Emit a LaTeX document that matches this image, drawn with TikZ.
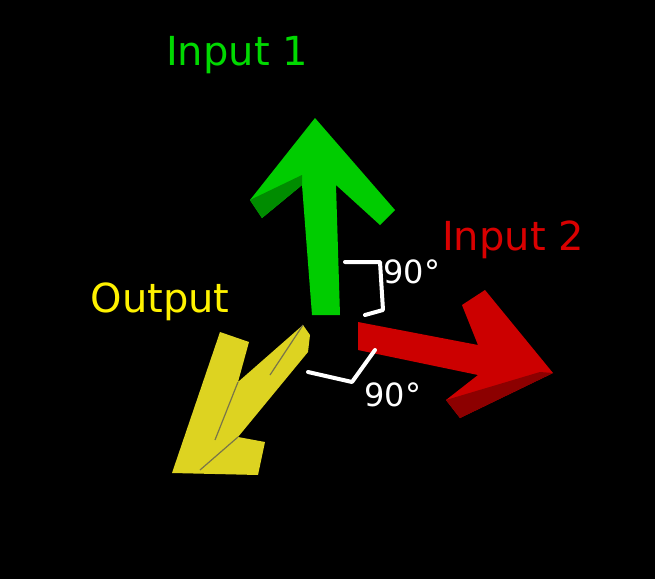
\documentclass[tikz,border=0pt]{standalone}
\usepackage{fontspec}
\setmainfont{DejaVu Sans}
\begin{document}
\begin{tikzpicture}[x=0.5pt, y=-0.5pt,
  lbl/.style={font=\fontsize{20}{22}\selectfont, anchor=center},
  anglemark/.style={white, line width=2pt, line cap=round, line join=round}]
  \fill[black] (0,0) rectangle (655,579);
  \useasboundingbox (0,0) rectangle (655,579);
  % green arrow
  \fill[green!80!black] (340,315) -- (336,185) -- (380,225) -- (395,210) -- (315,118) -- (250,200) -- (262,218) -- (302,185) -- (312,315) -- cycle;
  \fill[green!55!black] (250,200) -- (262,218) -- (302,185) -- (302,175) -- cycle;
  % red arrow
  \fill[red!80!black] (358,322) -- (478,345) -- (462,305) -- (485,290) -- (553,373) -- (460,418) -- (446,400) -- (478,375) -- (358,350) -- cycle;
  \fill[red!55!black] (446,400) -- (460,418) -- (553,373) -- (540,372) -- cycle;
  % yellow arrow
  \fill[yellow!85!black] (220,332) -- (249,342) -- (238,382) -- (303,325) -- (310,335) -- (308,352) -- (238,437) -- (265,442) -- (258,475) -- (172,473) -- cycle;
  \draw[yellow!40!black, line width=0.6pt] (238,382) -- (215,440) (238,437) -- (200,470) (303,325) -- (270,375);
  % angle marks
  \draw[anglemark] (345,262) -- (380,262) -- (383,310) -- (365,315);
  \draw[anglemark] (308,372) -- (352,382) -- (375,350);
  % labels
  \node[lbl, green!85!black] (in1) at (237,55) {Input 1};
  \node[lbl, red!85!black] (in2) at (513,240) {Input 2};
  \node[lbl, yellow] (out) at (160,302) {Output};
  \node[lbl, white, font=\fontsize{16}{18}\selectfont] (a1) at (412,272) {90°};
  \node[lbl, white, font=\fontsize{16}{18}\selectfont] (a2) at (393,395) {90°};
\end{tikzpicture}
\end{document}
